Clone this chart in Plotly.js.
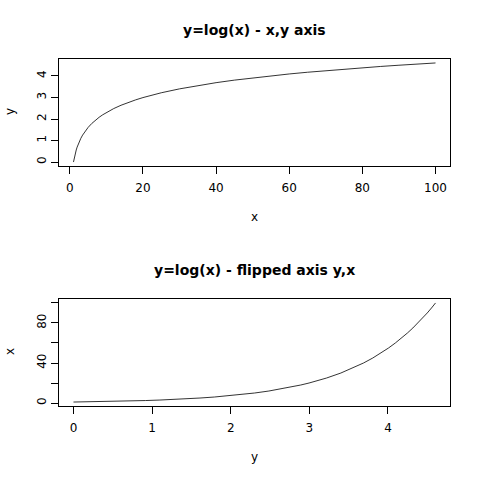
<!DOCTYPE html>
<html>
<head>
<meta charset="utf-8">
<script src="https://cdn.plot.ly/plotly-3.0.1.min.js"></script>
<style>
  html, body { margin: 0; padding: 0; background: #fff; }
  #plot { width: 480px; height: 480px; }
</style>
</head>
<body>
<div id="plot"></div>
<script>
var xVals = [1, 1.25, 1.5, 1.75, 2, 2.5, 3, 3.5, 4, 5, 6, 7, 8, 9, 10, 12, 14, 16, 18, 20,
             25, 30, 35, 40, 45, 50, 55, 60, 65, 70, 75, 80, 85, 90, 95, 100];
var yVals = [0, 0.223, 0.405, 0.560, 0.693, 0.916, 1.099, 1.253, 1.386, 1.609, 1.792, 1.946,
             2.079, 2.197, 2.303, 2.485, 2.639, 2.773, 2.890, 2.996, 3.219, 3.401, 3.555,
             3.689, 3.807, 3.912, 4.007, 4.094, 4.174, 4.248, 4.317, 4.382, 4.443, 4.500,
             4.554, 4.605];

var topXTicks = [0, 20, 40, 60, 80, 100];
var topYTicks = [0, 1, 2, 3, 4];
var botXTicks = [0, 1, 2, 3, 4];
var botYTicks = [0, 20, 40, 60, 80, 100];
var botYText = ['0', '', '40', '', '80', ''];

var titles = ['y=log(x) - x,y axis', 'y=log(x) - flipped axis y,x'];

var W = 480, H = 480;
function px(v) { return v / W; }
function py(v) { return 1 - v / H; }

var font = {family: 'DejaVu Sans, Liberation Sans, sans-serif', size: 12, color: '#000'};

function axisBase() {
  return {
    showgrid: false, zeroline: false,
    showline: true, mirror: true, linecolor: '#000', linewidth: 1,
    ticks: 'outside', ticklen: 7, tickcolor: '#000', tickwidth: 1,
    tickfont: font, tickmode: 'array', fixedrange: true
  };
}

// R pads the data range by 4% on each side
function pad(lo, hi) { var d = (hi - lo) * 0.04; return [lo - d, hi + d]; }

var data = [
  {x: xVals, y: yVals, xaxis: 'x', yaxis: 'y', type: 'scatter', mode: 'lines',
   line: {color: '#000', width: 0.8}, hoverinfo: 'skip'},
  {x: yVals, y: xVals, xaxis: 'x2', yaxis: 'y2', type: 'scatter', mode: 'lines',
   line: {color: '#000', width: 0.8}, hoverinfo: 'skip'}
];

var xa = axisBase(), ya = axisBase(), xa2 = axisBase(), ya2 = axisBase();
xa.domain = [px(59), px(450)]; xa.anchor = 'y';
xa.range = pad(1, 100); xa.tickvals = topXTicks; xa.ticklabelstandoff = 4;
ya.domain = [py(166), py(59)]; ya.anchor = 'x';
ya.range = pad(0, 4.605); ya.tickvals = topYTicks; ya.tickangle = -90;

xa2.domain = [px(59), px(450)]; xa2.anchor = 'y2';
xa2.range = pad(0, 4.605); xa2.tickvals = botXTicks; xa2.ticklabelstandoff = 4;
ya2.domain = [py(406), py(299)]; ya2.anchor = 'x2';
ya2.range = pad(1, 100); ya2.tickvals = botYTicks; ya2.ticktext = botYText; ya2.tickangle = -90;

function ann(text, x, y, opts) {
  var a = {text: text, x: px(x), y: py(y), xref: 'paper', yref: 'paper',
           showarrow: false, xanchor: 'center', yanchor: 'middle', font: font};
  for (var k in opts) a[k] = opts[k];
  return a;
}

var boldFont = {family: font.family, size: 14, color: '#000'};

var layout = {
  width: W, height: H,
  margin: {l: 0, r: 0, t: 0, b: 0},
  paper_bgcolor: '#fff', plot_bgcolor: '#fff',
  showlegend: false,
  xaxis: xa, yaxis: ya, xaxis2: xa2, yaxis2: ya2,
  annotations: [
    ann('<b>' + titles[0] + '</b>', 254, 30, {font: boldFont}),
    ann('x', 254, 217),
    ann('y', 10, 112, {textangle: -90}),
    ann('<b>' + titles[1] + '</b>', 254, 270, {font: boldFont}),
    ann('y', 254, 457),
    ann('x', 10, 352, {textangle: -90})
  ]
};

Plotly.newPlot('plot', data, layout, {staticPlot: true, displayModeBar: false});
</script>
</body>
</html>
